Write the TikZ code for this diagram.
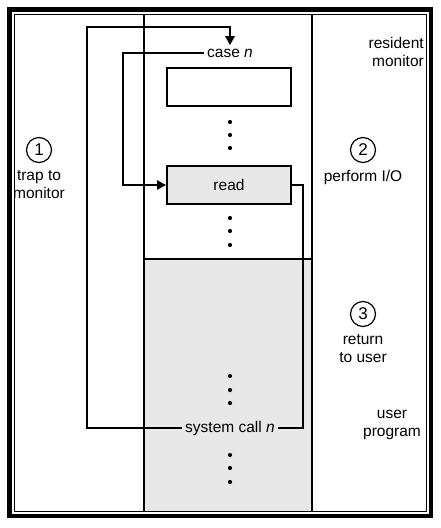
\documentclass[tikz,border=0pt]{standalone}
\usepackage{fontspec}
\setmainfont{Liberation Sans}
\usetikzlibrary{positioning, arrows.meta}

\begin{document}
\begin{tikzpicture}[x=1pt, y=-1pt,
                every node/.style={font=\fontsize{15.5}{18.5}\selectfont},
                box/.style={rectangle, draw, line width=1.8pt, minimum width=124pt, minimum height=38pt, inner sep=0pt},
                num/.style={circle, draw, line width=1.2pt, minimum size=25pt, inner sep=0pt, font=\fontsize{17}{18}\selectfont},
                lbl/.style={align=center, inner sep=0pt},
                dot/.style={circle, fill, inner sep=0pt, minimum size=4.2pt},
                link/.style={line width=2.2pt},
                arrow/.style={link, -{Triangle[length=9pt, width=9pt]}}
            ]
            \useasboundingbox (0,0) rectangle (441,528);

            % frame and memory column
            \draw[line width=4.5pt] (9.5,9.5) rectangle (431,516);
            \draw[line width=1.2pt] (14.5,14.5) rectangle (426.5,511.5);
            \fill[gray!18] (144,259) rectangle (312,511);
            \draw[line width=1.8pt] (144,14.5) -- (144,511) (312,14.5) -- (312,511);
            \draw[line width=2.2pt] (144,259) -- (312,259);

            \node (casen) at (230,53) {case \textit{n}};
            \node[box] (slot) at (229,87) {};
            \node[box, fill=gray!18] (read) at (229,185) {read};
            \node (syscall) at (230,428) {system call \textit{n}};

            \foreach \y in {122,135,148,218,231,245,376,390,403,455,468,482}
                \node[dot] (dot\y) at (230,\y) {};

            \node[num] (one) at (39,150) {1};
            \node[lbl, below=7pt of one] (trap) {trap to\\monitor};
            \node[num] (two) at (363,150) {2};
            \node[lbl, below=7pt of two] (pio) {perform I/O};
            \node[num] (three) at (363,314) {3};
            \node[lbl, below=7pt of three] (ret) {return\\to user};
            \node[lbl, align=right, anchor=east] (resident) at (424,52) {resident\\monitor};
            \node[lbl] (user) at (392,425) {user\\program};

            \draw[arrow] (syscall.west) -| (87,27) -| (casen.north);
            \draw[arrow] (casen.west) -- ++(-81,0) |- (read.west);
            \draw[link] (read.east) -- ++(11,0) |- (syscall.east);
        \end{tikzpicture}
\end{document}
